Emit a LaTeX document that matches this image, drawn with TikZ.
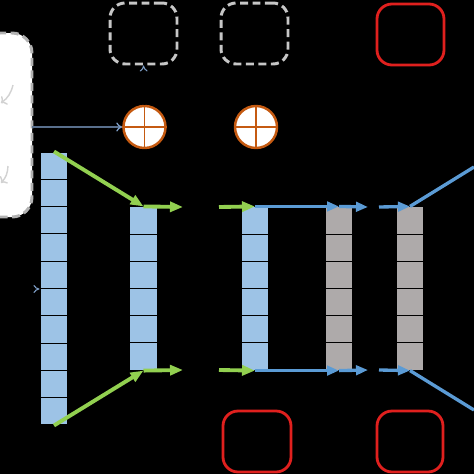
\documentclass[tikz,border=0pt]{standalone}
\usetikzlibrary{arrows.meta}

\definecolor{cellblue}{HTML}{9DC3E6}
\definecolor{cellgray}{HTML}{AEAAAA}
\definecolor{arrgreen}{HTML}{92D050}
\definecolor{arrblue}{HTML}{5B9BD5}
\definecolor{tipblue}{HTML}{7F9FC8}
\definecolor{boxred}{HTML}{E0201E}
\definecolor{sumbrown}{HTML}{C55A11}

\tikzset{
    cell/.style={rectangle, draw=black, line width=0.6pt, inner sep=0pt,
        minimum width=0.56cm, minimum height=0.545cm},
    ghostbox/.style={rectangle, rounded corners=0.3cm, draw=gray!45, line width=1.7pt,
        dash pattern=on 1.6mm off 0.9mm, minimum width=1.34cm, minimum height=1.22cm},
    redbox/.style={rectangle, rounded corners=0.3cm, draw=boxred, line width=1.6pt,
        minimum width=1.34cm, minimum height=1.22cm},
    sum/.style={circle, draw=sumbrown, fill=white, line width=1.4pt,
        minimum size=0.84cm, inner sep=0pt},
    greenarr/.style={arrgreen, line width=2.2pt, -{Triangle[length=2.6mm, width=2mm]}},
    bluearr/.style={arrblue, line width=1.9pt, -{Triangle[length=2.4mm, width=1.9mm]}},
    ghosttip/.style={black, line width=0.6pt, -{To[color=tipblue, length=1.2mm, width=1.6mm]}}
}

\begin{document}
\begin{tikzpicture}[x=0.02cm, y=-0.02cm]
    \useasboundingbox (0,0) rectangle (474,474);
    \fill[black] (0,0) rectangle (474,474);
    % left panel
    \draw[fill=white, draw=gray!60, line width=1.7pt, dash pattern=on 1.6mm off 0.9mm,
        rounded corners=0.4cm] (-20,33) rectangle (32,217);
    \coordinate (panel) at (32,127);
    \draw[gray!35, line width=0.8pt, -{To[length=1mm]}] (13,85) to[bend left=20] (1,103);
    \draw[gray!35, line width=0.8pt, -{To[length=1mm]}] (8,166) to[bend left=20] (1,183);
    % top boxes and sums
    \node[ghostbox] (ctxa) at (143.5,33.5) {};
    \node[ghostbox] (ctxb) at (254.5,33.5) {};
    \node[redbox]   (outa) at (410.5,34.5) {};
    \node[sum] (suma) at (144.5,127) {};
    \node[sum] (sumb) at (256,127) {};
    \foreach \s in {suma, sumb} {
        \draw[sumbrown, line width=1pt] (\s.north) -- (\s.south);
        \draw[sumbrown, line width=1pt] (\s.west) -- (\s.east);
    }
    \draw[tipblue!70!black, line width=0.7pt, -{To[color=tipblue, length=1.2mm, width=1.8mm]}]
        (panel) -- (suma.west);
    \draw[ghosttip] (suma.north) -- (ctxa.south);
    % columns of cells
    \foreach \i in {1,...,10}
        \node[cell, fill=cellblue] (inp-\i) at (54, {152+27.3*(\i-0.5)}) {};
    \foreach \i in {1,...,6} {
        \node[cell, fill=cellblue] (enc-\i) at (143.5, {207+27.17*(\i-0.5)}) {};
        \node[cell, fill=cellblue] (dec-\i) at (255, {207+27.17*(\i-0.5)}) {};
        \node[cell, fill=cellgray] (lay-\i) at (339, {207+27.17*(\i-0.5)}) {};
        \node[cell, fill=cellgray] (out-\i) at (410, {207+27.17*(\i-0.5)}) {};
    }
    \coordinate (side) at (0,289);
    \draw[ghosttip] (side) -- (inp-5.south west);
    % bottom boxes
    \node[redbox, minimum width=1.36cm] (outb) at (257,441.5) {};
    \node[redbox, minimum width=1.32cm] (outc) at (410,441.5) {};
    % green arrows
    \coordinate (gta) at (183,207);
    \coordinate (gtb) at (219,207);
    \coordinate (gba) at (183,370);
    \coordinate (gbb) at (219,370);
    \draw[greenarr] (inp-1.north) -- (enc-1.north);
    \draw[greenarr] (enc-1.north) -- (gta);
    \draw[greenarr] (gtb) -- (dec-1.north);
    \draw[greenarr] (inp-10.south) -- (enc-6.south);
    \draw[greenarr] (enc-6.south) -- (gba);
    \draw[greenarr] (gbb) -- (dec-6.south);
    % blue arrows
    \coordinate (bta) at (368,207);
    \coordinate (btb) at (379,207);
    \coordinate (btc) at (474,167);
    \coordinate (bba) at (368,370);
    \coordinate (bbb) at (379,370);
    \coordinate (bbc) at (474,410);
    \draw[bluearr] (dec-1.north) -- (lay-1.north);
    \draw[bluearr] (lay-1.north) -- (bta);
    \draw[bluearr] (btb) -- (out-1.north);
    \draw[arrblue, line width=1.9pt] (out-1.north) -- (btc);
    \draw[bluearr] (dec-6.south) -- (lay-6.south);
    \draw[bluearr] (lay-6.south) -- (bba);
    \draw[bluearr] (bbb) -- (out-6.south);
    \draw[arrblue, line width=1.9pt] (out-6.south) -- (bbc);
\end{tikzpicture}
\end{document}
